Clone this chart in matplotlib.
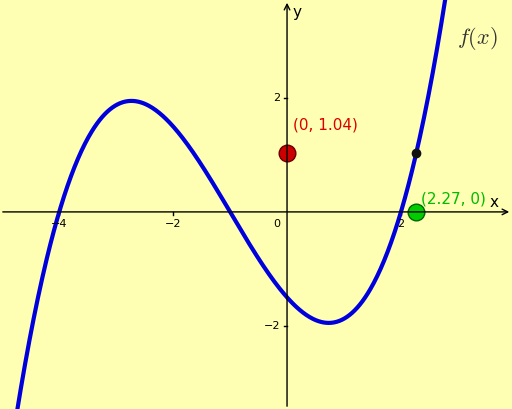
import numpy as np
import matplotlib
matplotlib.use("Agg")
import matplotlib.pyplot as plt

coeffs = [0.1875, 0.5625, -1.125, -1.5]
red_pt = (0, 1.04)
green_pt = (2.27, 0)
black_pt = (2.27, 1.04)
xticks = [-4, -2, 2]
yticks = [-2, 2]

plt.rcParams["mathtext.fontset"] = "cm"
bg = "#ffffb4"
fig = plt.figure(figsize=(5.12, 4.09), dpi=100, facecolor=bg)
ax = fig.add_axes([0, 0, 1, 1], facecolor=bg)
ax.set_xlim(-5.04, 3.95)
ax.set_ylim(-3.46, 3.72)
for s in ax.spines.values():
    s.set_visible(False)
ax.set_xticks([]); ax.set_yticks([])

ax.annotate("", xy=(3.95, 0), xytext=(-5.04, 0), arrowprops=dict(arrowstyle="->", lw=1, color="black"))
ax.annotate("", xy=(0, 3.72), xytext=(0, -3.46), arrowprops=dict(arrowstyle="->", lw=1, color="black"))
for t in xticks:
    ax.plot([t, t], [0, -0.06], color="black", lw=1)
    ax.text(t, -0.12, f"\u2212{abs(t)}" if t < 0 else str(t), ha="center", va="top", fontsize=8)
for t in yticks:
    ax.plot([0, -0.06], [t, t], color="black", lw=1)
    ax.text(-0.12, t, f"\u2212{abs(t)}" if t < 0 else str(t), ha="right", va="center", fontsize=8)
ax.text(-0.12, -0.12, "0", ha="right", va="top", fontsize=8)
ax.text(0.1, 3.5, "y", fontsize=11, va="center")
ax.text(3.55, 0.17, "x", fontsize=11, va="center")

x = np.linspace(-5.1, 4.0, 600)
ax.plot(x, np.polyval(coeffs, x), color="#0000dd", lw=3)
ax.text(2.98, 2.95, "$f(x)$", fontsize=16, color="#333333")

ax.plot(*red_pt, "o", ms=12, mfc="#cc0000", mec="#660000", mew=1)
ax.text(0.1, 1.45, "(0, 1.04)", color="#dd0000", fontsize=11)
ax.plot(*black_pt, "o", ms=6, color="#111111")
ax.plot(*green_pt, "o", ms=12, mfc="#00cc00", mec="#006600", mew=1)
ax.text(2.35, 0.15, "(2.27, 0)", color="#00bb00", fontsize=11)

fig.savefig("out.png", dpi=100, facecolor=bg)
